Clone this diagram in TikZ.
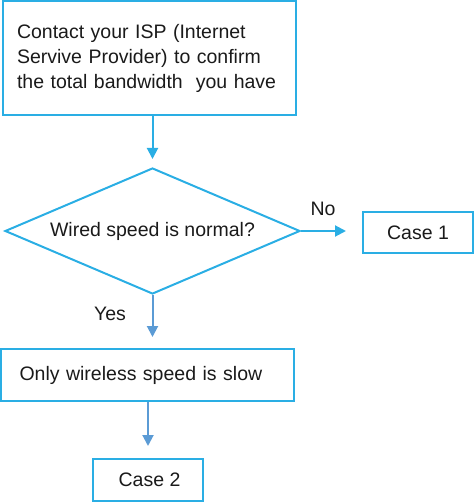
\documentclass[tikz,border=0pt]{standalone}
\usepackage{fontspec}
\setmainfont{Liberation Sans}
\usetikzlibrary{shapes.geometric,arrows.meta}
\definecolor{boxblue}{HTML}{2AAEE4}
\definecolor{arrowsteel}{HTML}{5B9BD5}
\definecolor{txt}{HTML}{1A1A1A}
\begin{document}
\begin{tikzpicture}[x=1pt,y=-1pt,
  every node/.style={font=\fontsize{19.5}{25}\selectfont, text=txt},
  flowbox/.style={draw=boxblue, line width=2pt, rectangle, inner sep=0pt},
  decision/.style={draw=boxblue, line width=2pt, diamond, inner sep=0pt, shape aspect=2.34},
  cyanarrow/.style={draw=boxblue, line width=2pt, -{Triangle[length=11pt,width=11pt]}},
  steelarrow/.style={draw=arrowsteel, line width=2pt, -{Triangle[length=11pt,width=11pt]}},
  lbl/.style={inner sep=0pt}
]
\useasboundingbox (0,0) rectangle (474,502);
\node[flowbox, minimum width=293pt, minimum height=114pt, text width=265pt, align=left] (isp) at (149.5,58)
  {Contact your ISP (Internet\\Servive Provider) to confirm\\the total bandwidth~ you have};
\node[decision, minimum width=295pt, minimum height=126pt] (wired) at (152.5,231) {Wired speed is normal?};
\node[flowbox, minimum width=110pt, minimum height=41pt] (case1) at (418,232.5) {Case 1};
\node[flowbox, minimum width=293pt, minimum height=52pt, text width=256pt, align=left] (wireless) at (147.5,375) {Only wireless speed is slow};
\node[flowbox, minimum width=110pt, minimum height=42pt] (case2) at (148,480) {\hspace{3pt}Case 2};
\node[lbl] (no) at (323,209) {No};
\node[lbl] (yes) at (110,314) {Yes};
\draw[cyanarrow, shorten >=8pt] (isp.south -| wired.north) -- (wired.north);
\draw[cyanarrow, shorten >=16pt] (wired.east) -- (case1.west |- wired.east);
\draw[steelarrow, shorten >=11pt] (wired.south) -- (wired.south |- wireless.north);
\draw[steelarrow, shorten >=12pt] (wireless.south -| case2.north) -- (case2.north);
\end{tikzpicture}
\end{document}
